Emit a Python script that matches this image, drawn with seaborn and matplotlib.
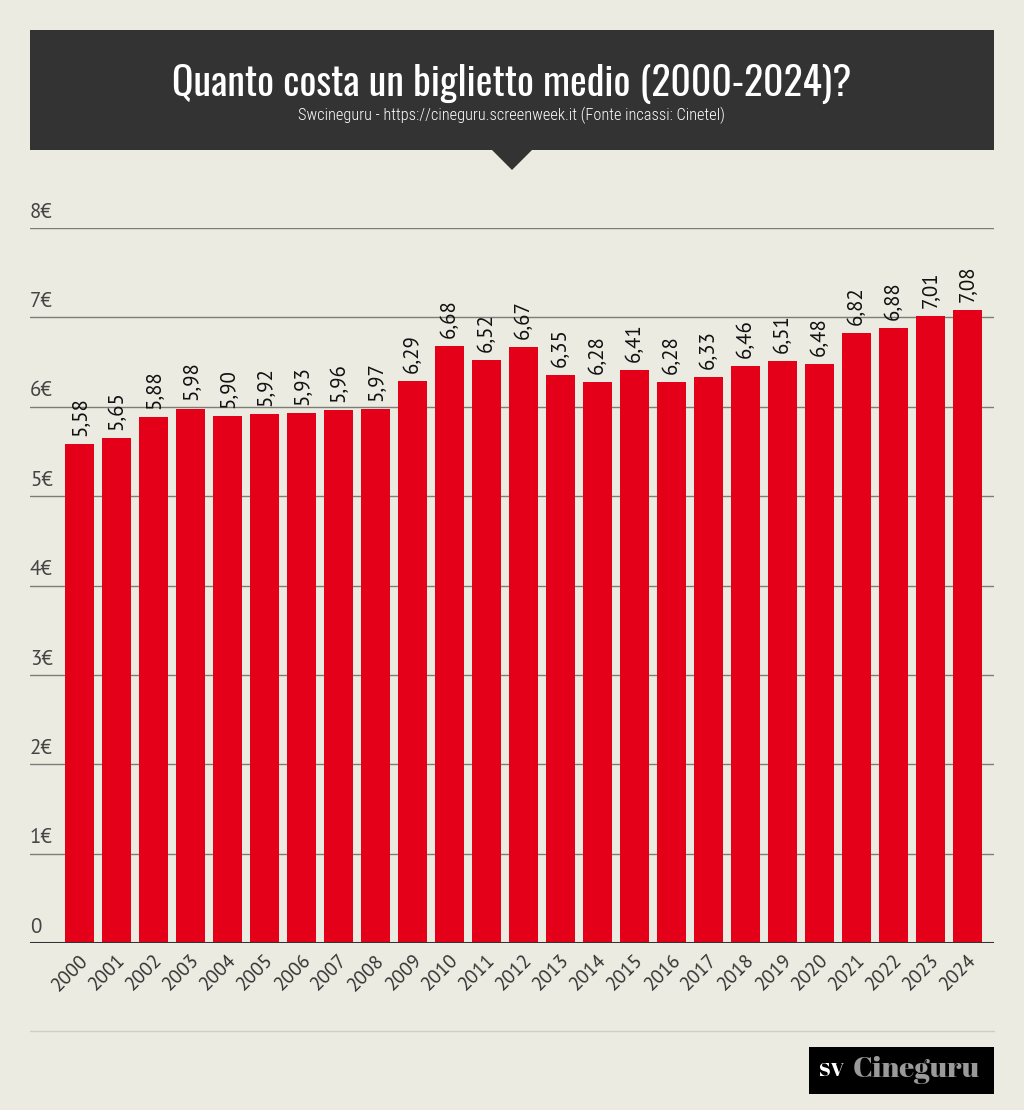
import matplotlib
matplotlib.use("Agg")
import matplotlib.pyplot as plt
import seaborn as sns
import pandas as pd
from matplotlib.patches import Rectangle, Polygon
from matplotlib import font_manager as fm

years = [str(y) for y in range(2000, 2025)]
prices = [5.58, 5.65, 5.88, 5.98, 5.90, 5.92, 5.93, 5.96, 5.97, 6.29,
          6.68, 6.52, 6.67, 6.35, 6.28, 6.41, 6.28, 6.33, 6.46, 6.51,
          6.48, 6.82, 6.88, 7.01, 7.08]
ytick_values = [0, 1, 2, 3, 4, 5, 6, 7, 8]
ytick_labels = ["0", "1€", "2€", "3€", "4€", "5€", "6€", "7€", "8€"]
title = "Quanto costa un biglietto medio (2000-2024)?"
subtitle = "Swcineguru - https://cineguru.screenweek.it (Fonte incassi: Cinetel)"

BG = "#ecebe1"
RED = "#e50019"
DARK = "#333333"

fonts = [(f.name, f.weight) for f in fm.fontManager.ttflist]
names = {n for n, _ in fonts}

def has(name, weight=None):
    return any(n == name and (weight is None or w == weight) for n, w in fonts)

TITLE_FONT = ["Oswald", "Liberation Sans Narrow", "DejaVu Sans"]
if has("Open Sans Condensed", 300):
    SUB_FONT, SUB_W = ["Open Sans Condensed", "DejaVu Sans"], 300
elif has("Open Sans Condensed Light"):
    SUB_FONT, SUB_W = ["Open Sans Condensed Light", "DejaVu Sans"], "normal"
elif has("Roboto Condensed"):
    SUB_FONT, SUB_W = ["Roboto Condensed", "DejaVu Sans"], 300 if has("Roboto Condensed", 300) else "normal"
else:
    SUB_FONT, SUB_W = ["Open Sans", "DejaVu Sans"], "normal"
BODY_FONT = ["PT Sans", "Lato", "DejaVu Sans"]
LOGO_FONT = ["Abril Fatface", "DejaVu Serif"]

sns.set_theme(style="white")
plt.rcParams["font.family"] = BODY_FONT

W, H = 1024, 1110
fig = plt.figure(figsize=(W / 100, H / 100), dpi=100, facecolor=BG)
renderer = fig.canvas.get_renderer()

def fx(px):
    return px / W

def fy(py):
    return 1 - py / H

def fit_width(t, target_px):
    w = t.get_window_extent(renderer=renderer).width
    t.set_fontsize(t.get_fontsize() * target_px / w)

ax = fig.add_axes([fx(30), fy(943), fx(994) - fx(30), fy(228) - fy(943)])
ax.set_facecolor(BG)
ax.patch.set_alpha(0)

df = pd.DataFrame({"anno": years, "prezzo": prices})
sns.barplot(data=df, x="anno", y="prezzo", color=RED, width=0.78,
            saturation=1, linewidth=0, edgecolor="none", ax=ax, zorder=3)

ax.set_ylim(0, 8)
ax.set_xlim(-1.34, 24.72)
for v in ytick_values[1:]:
    ax.axhline(v, color="#7d7d78", lw=1.0, zorder=1)
ax.axhline(0, color=DARK, lw=2.2, zorder=4)
for s in ax.spines.values():
    s.set_visible(False)
ax.set_xlabel("")
ax.set_ylabel("")
ax.set_yticks([])
ax.tick_params(axis="x", length=0, pad=6)
ax.set_xticks(range(len(years)))
ax.set_xticklabels(years, rotation=45, ha="right", va="top",
                   rotation_mode="anchor", fontsize=14, color=DARK)

for v, lab in zip(ytick_values, ytick_labels):
    ax.text(0.0, v + 0.07, lab, transform=ax.get_yaxis_transform(),
            ha="left", va="bottom", fontsize=15, color="#444444")

for i, v in enumerate(prices):
    ax.text(i, v + 0.09, f"{v:.2f}".replace(".", ","), rotation=90,
            ha="center", va="bottom", fontsize=15, color="#111111", zorder=5)

# title banner
fig.patches.append(Rectangle((fx(30), fy(150)), fx(994) - fx(30), fy(30) - fy(150),
                             transform=fig.transFigure, facecolor=DARK,
                             edgecolor="none", zorder=0))
fig.patches.append(Polygon([(fx(492), fy(150)), (fx(532), fy(150)), (fx(512), fy(170))],
                           closed=True, transform=fig.transFigure,
                           facecolor=DARK, edgecolor="none", zorder=0))
t1 = fig.text(fx(512), fy(84), title, ha="center", va="center", color="white",
              fontsize=30, family=TITLE_FONT)
fit_width(t1, 680)
t2 = fig.text(fx(512), fy(115), subtitle, ha="center", va="center", color="white",
              fontsize=11.5, fontweight=SUB_W, family=SUB_FONT)
fit_width(t2, 430)

# bottom line and logo
fig.add_artist(plt.Line2D([fx(30), fx(994)], [fy(1031), fy(1031)],
                          transform=fig.transFigure, color="#cfcec4", lw=1))
fig.patches.append(Rectangle((fx(809), fy(1094)), fx(994) - fx(809), fy(1047) - fy(1094),
                             transform=fig.transFigure, facecolor="black",
                             edgecolor="none"))
fig.text(fx(831), fy(1071), "SV", ha="center", va="center", color="white",
         fontsize=14, fontweight="bold", family=LOGO_FONT)
fig.text(fx(916), fy(1070), "Cineguru", ha="center", va="center", color="#9a9a9a",
         fontsize=21, family=LOGO_FONT)

fig.savefig("out.png", dpi=100, facecolor=BG)
